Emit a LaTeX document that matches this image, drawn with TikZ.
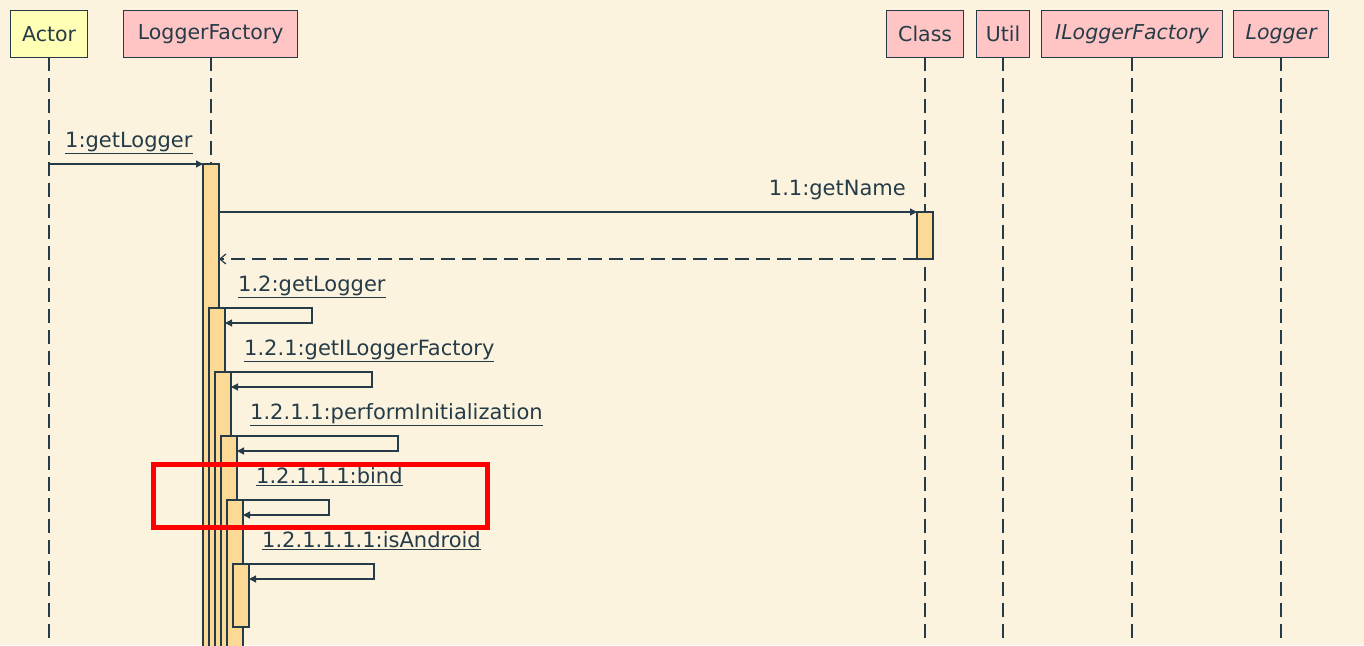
\documentclass[tikz,border=0pt]{standalone}
\usepackage{fontspec}
\setmainfont{DejaVu Sans}
\usetikzlibrary{arrows.meta}
\definecolor{bg}{HTML}{FCF3DE}
\definecolor{ink}{HTML}{253C48}
\definecolor{pinkf}{HTML}{FFC5C5}
\definecolor{yelf}{HTML}{FFFFB5}
\definecolor{actf}{HTML}{FDD996}
\tikzset{
 hdr/.style={draw=ink,line width=1.3pt,fill=pinkf,inner sep=0pt,anchor=north west,font=\fontsize{20.5}{21}\selectfont,text=ink},
 life/.style={draw=ink,line width=1.2pt,dash pattern=on 14pt off 7pt},
 actbar/.style={draw=ink,line width=1.3pt,fill=actf},
 msg/.style={draw=ink,line width=1.2pt,-{Triangle[length=7pt,width=7pt]}},
 ret/.style={draw=ink,line width=1.2pt,dash pattern=on 14pt off 7pt,-{Straight Barb[length=6pt,width=10pt]}},
 lbl/.style={font=\fontsize{21}{21}\selectfont,text=ink,inner sep=0pt,anchor=base west},
}
\newcommand{\ul}[1]{\underline{#1}}
\begin{document}
\begin{tikzpicture}[x=1pt,y=-1pt]
\fill[bg] (0,0) rectangle (1364,645);
\useasboundingbox (0,0) rectangle (1364,645);
% lifelines
\foreach \x in {49,211,925,1003,1132,1281} \draw[life] (\x,57) -- (\x,645);
% headers
\node[hdr,fill=yelf,minimum width=77pt,minimum height=47pt] (actor) at (10,10) {Actor};
\node[hdr,minimum width=174pt,minimum height=47pt] (lf) at (123,10) {LoggerFactory};
\node[hdr,minimum width=77pt,minimum height=47pt] (cls) at (886,10) {Class};
\node[hdr,minimum width=53pt,minimum height=47pt] (util) at (976,10) {Util};
\node[hdr,minimum width=181pt,minimum height=47pt] (ilf) at (1041,10) {\itshape ILoggerFactory};
\node[hdr,minimum width=95pt,minimum height=47pt] (lg) at (1233,10) {\itshape Logger};
% activation bars
\draw[actbar] (203,164) rectangle (219,650);
\draw[actbar] (209,308) rectangle (225,650);
\draw[actbar] (215,372) rectangle (231,650);
\draw[actbar] (221,436) rectangle (237,650);
\draw[actbar] (227,500) rectangle (243,650);
\draw[actbar] (233,564) rectangle (249,627);
\draw[actbar] (917,212) rectangle (933,259);
\coordinate (a0) at (49,164); \coordinate (a1) at (203,164);
\coordinate (c0) at (219,212); \coordinate (c1) at (917,212);
\coordinate (r0) at (917,259); \coordinate (r1) at (219,259);
% messages
\draw[msg] (a0) -- (a1);
\node[lbl] (m1) at (65,147) {\ul{1:getLogger}};
\draw[msg] (c0) -- (c1);
\node[lbl,anchor=base east] (m2) at (906,195) {1.1:getName};
\draw[ret] (r0) -- (r1);
\draw[msg] (219,308) -- (312,308) -- (312,323) -- (225,323);
\node[lbl] (m3) at (238,291) {\ul{1.2:getLogger}};
\draw[msg] (225,372) -- (372,372) -- (372,387) -- (231,387);
\node[lbl] (m4) at (244,355) {\ul{1.2.1:getILoggerFactory}};
\draw[msg] (231,436) -- (398,436) -- (398,451) -- (237,451);
\node[lbl] (m5) at (250,419) {\ul{1.2.1.1:performInitialization}};
\draw[msg] (237,500) -- (329,500) -- (329,515) -- (243,515);
\node[lbl] (m6) at (256,483) {\ul{1.2.1.1.1:bind}};
\draw[msg] (243,564) -- (374,564) -- (374,579) -- (249,579);
\node[lbl] (m7) at (262,547) {\ul{1.2.1.1.1.1:isAndroid}};
% highlight
\draw[red,line width=5pt] (153,464) rectangle (487,527);
\end{tikzpicture}
\end{document}
